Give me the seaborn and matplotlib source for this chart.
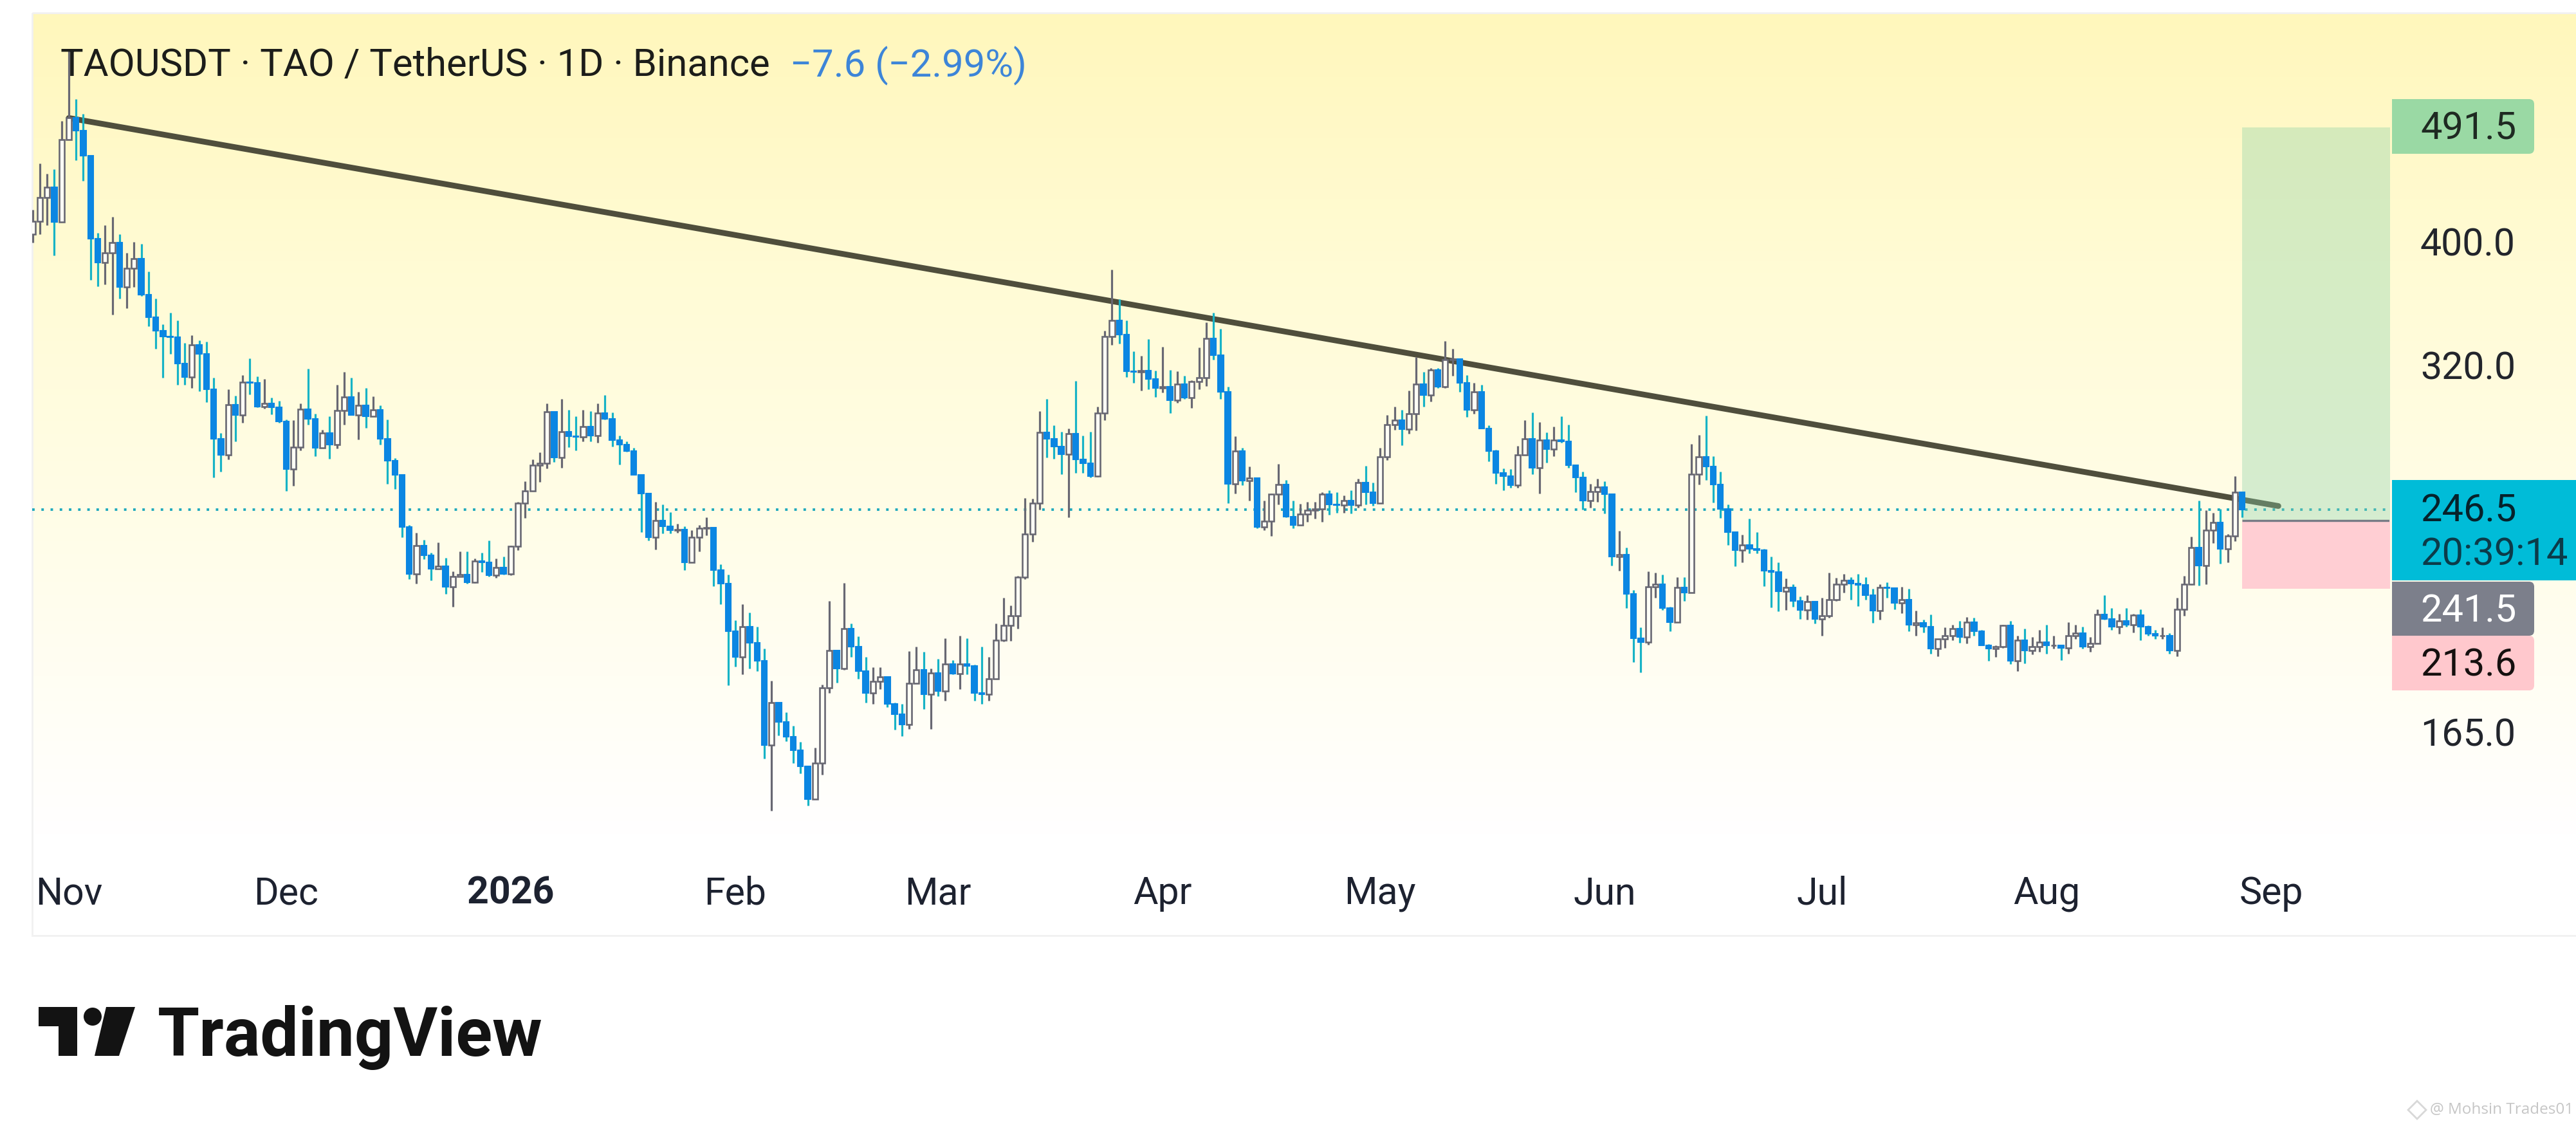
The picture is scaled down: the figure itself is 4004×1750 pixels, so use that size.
import numpy as np
import pandas as pd
import matplotlib
matplotlib.use("Agg")
import matplotlib.pyplot as plt
import seaborn as sns
from matplotlib.colors import LinearSegmentedColormap
from matplotlib.patches import FancyBboxPatch, Polygon, Circle, Rectangle
from matplotlib.transforms import Affine2D

# daily candles, first one is 5 days before 1 Nov
first_open = 405.3
closes = [
    414.9,432.9,441.1,414.4,480.9,500.0,488.9,466.8,401.9,385.0,
    391.8,399.0,368.3,380.9,387.7,363.2,348.8,340.4,337.0,336.6,
    320.7,313.0,331.7,326.4,306.2,280.1,272.1,297.7,292.3,310.1,
    309.8,296.7,298.4,296.3,288.9,265.0,275.9,295.3,290.3,275.6,
    283.0,277.2,294.7,301.9,292.3,297.4,291.6,295.0,280.1,269.2,
    262.3,238.9,219.3,230.8,226.8,221.3,222.4,214.3,218.3,219.1,
    216.0,224.4,224.1,218.8,221.8,219.3,230.6,249.4,254.8,267.0,
    268.0,294.0,270.8,283.5,281.3,281.0,286.2,281.7,293.3,290.3,
    279.4,277.2,274.0,262.3,253.6,234.3,241.7,239.2,237.3,237.8,
    224.1,234.3,238.1,238.6,221.0,215.5,197.9,188.9,199.5,193.6,
    187.4,161.0,173.8,167.8,163.4,159.5,154.9,146.0,155.8,178.5,
    191.1,185.0,198.8,192.3,184.0,176.9,180.6,182.1,173.4,170.2,
    167.2,180.0,184.4,176.5,183.3,177.5,186.5,183.1,186.5,185.7,
    176.9,176.5,181.4,194.5,199.8,203.3,218.1,235.7,249.4,283.2,
    280.1,276.2,272.4,282.8,269.9,268.0,261.7,293.3,336.7,346.8,
    338.2,316.2,315.9,316.6,311.9,306.9,307.6,300.1,309.1,301.6,
    310.5,312.7,335.9,325.6,304.8,258.1,274.0,259.6,260.8,238.9,
    241.4,253.3,257.8,243.4,239.7,244.3,246.0,246.6,253.3,248.8,
    248.5,250.5,248.3,258.7,254.2,249.4,271.2,287.2,289.6,284.9,
    293.0,309.1,303.0,317.3,307.6,323.0,323.4,309.8,295.0,304.8,
    285.2,274.0,263.2,261.7,257.5,272.1,280.1,265.6,279.4,275.0,
    279.4,278.8,267.0,261.1,250.5,254.5,256.6,253.3,226.3,227.1,
    211.7,195.2,193.9,214.3,215.3,206.2,201.0,214.0,212.2,262.6,
    271.2,266.4,257.8,246.6,236.5,229.0,231.1,229.5,229.0,220.6,
    220.1,212.7,214.0,209.0,205.5,208.6,202.1,203.3,209.3,215.3,
    216.8,215.5,215.0,211.0,205.2,214.0,213.8,208.1,209.3,200.0,
    200.7,199.3,191.6,195.0,196.3,198.6,195.7,201.0,197.7,192.7,
    191.6,192.3,199.8,187.4,194.5,191.1,192.3,193.9,192.7,192.9,
    192.0,196.1,197.2,192.3,193.4,203.8,202.1,199.5,201.4,200.2,
    203.6,199.5,196.8,196.1,196.3,191.1,205.7,215.3,230.0,222.6,
    237.5,240.6,229.5,234.9,254.2,246.5,
]
highs = [
    423.5,460.8,452.2,456.0,497.4,566.4,517.6,503.7,467.3,406.3,
    412.0,418.2,405.3,391.8,399.5,398.1,378.7,360.6,344.4,351.7,
    346.8,332.9,337.8,334.4,333.6,312.7,283.0,306.2,302.6,314.1,
    323.7,313.4,311.9,301.6,299.8,289.9,289.6,298.4,318.0,293.0,
    284.5,291.6,308.7,315.9,312.7,304.8,306.9,302.3,297.4,289.9,
    270.5,262.3,239.7,236.2,233.2,227.9,232.2,225.7,220.3,228.4,
    228.4,225.5,227.9,232.9,225.5,226.3,230.8,250.0,259.3,269.9,
    273.4,298.4,294.0,301.0,295.0,291.6,295.0,294.3,298.4,303.0,
    293.6,281.7,278.8,275.6,262.3,253.9,250.0,248.8,245.4,240.3,
    239.2,237.3,239.7,242.9,238.9,223.1,219.1,201.7,207.6,204.5,
    199.3,191.6,180.8,173.8,170.8,166.8,161.9,154.9,160.2,179.7,
    208.8,191.1,215.8,200.5,195.9,188.7,185.3,185.3,182.3,173.8,
    173.4,190.7,192.3,190.5,185.0,188.2,195.2,187.8,196.3,195.2,
    186.1,192.3,188.9,200.5,210.0,207.1,218.6,251.5,251.2,294.3,
    301.0,286.9,283.5,285.2,310.9,281.8,283.5,296.7,340.4,380.0,
    360.2,346.8,327.9,325.3,335.5,316.6,330.6,317.3,316.2,313.7,
    311.2,330.2,345.6,351.7,341.6,307.6,281.3,275.6,266.4,261.1,
    250.5,253.6,267.7,259.9,250.5,249.1,250.0,250.0,254.2,255.1,
    254.2,252.7,255.1,260.5,266.7,258.7,275.6,292.3,296.7,295.0,
    305.5,324.5,315.9,318.1,318.1,334.0,329.4,323.7,314.1,309.8,
    308.7,286.9,274.6,265.3,265.0,276.6,289.6,293.6,288.6,283.2,
    286.2,291.6,287.2,266.7,263.8,258.1,260.5,259.3,253.6,237.0,
    230.0,213.0,199.1,220.3,219.8,219.1,206.7,218.1,218.1,277.5,
    282.1,292.0,271.4,263.8,248.8,236.5,235.4,242.3,236.5,229.5,
    226.3,224.1,217.6,215.3,210.5,211.0,209.0,210.2,219.8,217.8,
    219.3,218.1,219.3,218.1,213.5,215.3,216.0,214.0,214.3,213.5,
    205.2,201.9,203.8,195.0,199.1,200.2,201.4,202.9,202.6,198.2,
    193.2,192.7,200.2,201.4,196.3,198.6,195.7,198.2,200.2,196.1,
    193.0,201.0,200.0,199.5,195.7,205.7,211.0,206.2,204.0,206.2,
    204.0,205.7,199.8,198.2,199.1,197.2,210.0,218.6,234.6,250.5,
    246.0,244.9,246.6,235.7,261.7,253.0,
]
lows = [
    399.0,405.3,412.0,390.0,415.4,480.9,463.5,446.2,373.0,368.7,
    370.0,350.4,360.6,354.7,368.3,362.3,343.2,329.4,312.7,326.4,
    308.7,308.7,306.9,305.1,299.1,261.1,263.9,269.9,278.8,288.2,
    303.3,296.3,295.7,292.6,288.2,254.8,257.2,274.3,287.2,271.4,
    275.6,270.2,275.3,287.2,292.3,279.7,285.5,291.6,277.2,258.1,
    255.7,234.3,217.3,215.5,225.2,216.8,221.3,211.7,206.7,218.6,
    215.5,215.8,220.1,218.3,217.8,219.1,218.8,229.0,242.6,254.8,
    259.0,265.3,268.6,265.9,275.9,274.3,278.8,278.8,278.1,289.9,
    276.2,267.3,273.7,262.3,236.5,233.0,229.3,235.9,235.9,236.2,
    220.8,224.1,228.4,235.1,214.5,207.6,179.3,185.5,182.9,185.0,
    184.0,157.2,143.0,163.8,162.1,155.8,153.0,144.4,146.3,152.6,
    176.9,180.2,184.4,188.9,181.4,173.8,173.4,178.1,172.4,165.5,
    163.6,165.7,180.2,171.8,165.7,175.8,174.4,182.9,178.1,182.9,
    174.4,173.4,174.4,181.4,194.1,194.3,198.6,217.3,232.4,246.3,
    270.8,270.2,262.6,242.9,263.2,263.2,261.1,261.4,289.6,331.7,
    332.5,313.0,309.8,305.5,306.2,301.9,304.4,293.3,298.7,300.8,
    296.0,306.2,308.0,323.0,300.8,249.4,253.6,257.5,250.5,238.1,
    237.3,234.9,248.8,242.9,238.1,239.7,240.9,242.3,241.1,244.0,
    245.1,245.1,244.6,247.4,248.8,248.0,249.4,269.5,284.5,276.9,
    282.5,284.2,296.7,299.4,306.9,306.9,313.7,304.8,291.3,293.0,
    285.2,268.9,258.1,255.1,256.3,256.3,272.1,262.6,253.6,268.3,
    271.4,278.1,265.9,254.2,246.3,247.4,250.0,244.6,222.8,220.6,
    206.2,187.1,183.6,193.0,210.0,205.5,197.9,201.0,209.0,212.2,
    257.8,259.9,249.7,242.6,231.1,222.4,224.1,227.6,227.6,214.5,
    206.4,205.0,205.5,206.7,202.1,201.9,200.5,196.3,202.6,209.0,
    212.2,209.3,206.9,209.3,200.7,201.9,210.2,205.7,204.3,197.9,
    196.3,197.4,189.8,189.1,191.8,194.5,193.6,193.4,196.1,192.7,
    187.4,188.7,192.0,186.5,184.0,186.7,189.6,190.5,189.8,191.6,
    187.8,189.8,195.0,191.6,190.5,193.4,201.9,198.2,196.8,199.5,
    197.4,194.5,196.3,195.0,195.0,190.0,189.1,203.3,215.0,214.8,
    215.3,231.9,223.6,224.1,232.7,243.1,
]

month_days = [0, 30, 61, 92, 120, 151, 181, 212, 242, 273, 304]
month_labels = ["Nov", "Dec", "2026", "Feb", "Mar", "Apr", "May", "Jun", "Jul", "Aug", "Sep"]
price_ticks = [400, 320, 165]

trend_days = [0, 305]
trend_prices = [500.0, 248.0]

last_price = 246.5
entry_price = 241.5
target_price = 491.5
stop_price = 213.6
position_days = [300, 321]

df = pd.DataFrame({"close": closes, "high": highs, "low": lows})
df["day"] = np.arange(len(df)) - 5
df["open"] = [first_open] + closes[:-1]
df["up"] = df["close"] >= df["open"]
up = df[df["up"]]
down = df[~df["up"]]

W, H = 4004, 1750
sns.set_theme(style="white")
plt.rcParams["font.family"] = ["Roboto", "DejaVu Sans"]

fig = plt.figure(figsize=(W / 100, H / 100), dpi=100, facecolor="white")
px = Affine2D().scale(1, -1).translate(0, H)  # image pixels, y down


def box(x0, y0, x1, y1):
    return [x0 / W, 1 - y1 / H, (x1 - x0) / W, (y1 - y0) / H]


# yellow fade behind the chart, runs under the price scale too
bg = fig.add_axes(box(50, 20, 4004, 1300), zorder=0)
fade = LinearSegmentedColormap.from_list(
    "fade", [(0, "#fff7bc"), (0.3, "#fffbd4"), (0.61, "#fffde7"), (1, "#ffffff")]
)
bg.imshow(np.linspace(0, 1, 512).reshape(-1, 1), aspect="auto", cmap=fade, vmin=0, vmax=1)
bg.axis("off")
fig.add_artist(Rectangle((50, 20), 4100, 1434, transform=px, fill=False, ec="#f1f1f1", lw=2))

ax = fig.add_axes(box(50, 20, 3714, 1300), zorder=1)
ax.patch.set_alpha(0)
ax.set_yscale("log")
ax.set_xlim(-5.06, 320.33)
ax.set_ylim(136.5, 604.6)
sns.despine(ax=ax, left=True, bottom=True, right=True, top=True)

ax.plot(ax.get_xlim(), [last_price, last_price], color="#1fa9bd", lw=2.8,
        ls=(0, (1, 2.67)), zorder=1)
sns.lineplot(x=trend_days, y=trend_prices, ax=ax, color="#4f4e3c", lw=6.4, sort=False,
             estimator=None, legend=False, zorder=2, solid_capstyle="round")

# long position box
ax.fill_between(position_days, entry_price, target_price, color="#8cd2a8", alpha=0.36, lw=0, zorder=3)
ax.fill_between(position_days, stop_price, entry_price, color="#ffcdd3", alpha=0.97, lw=0, zorder=3)
ax.plot(position_days, [entry_price, entry_price], color="#787b86", lw=2.4, zorder=3,
        solid_capstyle="butt")

# candles
ax.vlines(down["day"], down["low"], down["high"], color="#17b3c6", lw=2.3, zorder=4)
ax.vlines(up["day"], up["low"], up["high"], color="#686873", lw=2.3, zorder=4)
ax.bar(down["day"], (down["open"] - down["close"]), bottom=down["close"], width=0.74,
       color="#0b86e2", edgecolor="#0b86e2", lw=1.5, zorder=5)
ax.bar(up["day"], (up["close"] - up["open"]), bottom=up["open"], width=0.72,
       facecolor="#fffff6", edgecolor="#686873", lw=1.9, zorder=5)

# axes ticks
ax.yaxis.tick_right()
ax.set_yticks(price_ticks, [f"{v:.1f}" for v in price_ticks])
ax.minorticks_off()
ax.tick_params(axis="y", length=0, pad=34.5, labelsize=42.5, labelcolor="#22252c")
for t in ax.get_yticklabels():
    t.set_ha("left")
ax.set_xticks(month_days, month_labels)
ax.tick_params(axis="x", length=0, pad=43.5, labelsize=42.5, labelcolor="#1d2230")
ax.get_xticklabels()[2].set_fontweight("bold")
ax.set_xlabel("")
ax.set_ylabel("")

# header
fig.text(94, 102, "TAOUSDT · TAO / TetherUS · 1D · Binance", transform=px, fontsize=43,
         color="#1c1d1a", va="center", zorder=6)
fig.text(1228, 102, "−7.6 (−2.99%)", transform=px, fontsize=43, color="#3d85d8",
         va="center", zorder=6)

# price scale tags
tags = [
    (3718, 154, 3939, 239, "#9ad9a4", [("491.5", 200, "#1f2a22")]),
    (3718, 746, 4020, 902, "#00bcd8", [("246.5", 794, "#06222b"), ("20:39:14", 862, "#0c3b49")]),
    (3718, 904, 3939, 988, "#7c7f8b", [("241.5", 950, "#ffffff")]),
    (3718, 988, 3939, 1073, "#ffc8cd", [("213.6", 1034, "#15100f")]),
]
for x0, y0, x1, y1, col, rows in tags:
    fig.add_artist(FancyBboxPatch((x0 + 6, y0 + 6), x1 - x0 - 12, y1 - y0 - 12, transform=px,
                                  boxstyle="round,pad=6,rounding_size=8", fc=col, ec="none", zorder=5))
    fig.add_artist(Rectangle((x0, y0), 20, y1 - y0, transform=px, fc=col, ec="none", zorder=5))
    for text, y, tc in rows:
        fig.text(3762, y, text, transform=px, fontsize=42.8, color=tc, va="center", zorder=6)

# logo
logo = "#131313"
fig.add_artist(Polygon([(60, 1565), (120, 1565), (120, 1641), (91, 1641), (91, 1595), (60, 1595)],
                       transform=px, fc=logo, ec="none"))
fig.add_artist(Polygon([(165, 1565), (210, 1565), (185, 1641), (147, 1641)], transform=px, fc=logo, ec="none"))
fig.add_artist(Circle((144, 1580), 14, transform=px, fc=logo, ec="none"))
fig.text(245, 1641, "TradingView", transform=px, family="Roboto", fontsize=76, fontweight="bold",
         color=logo, va="baseline")

# watermark
fig.add_artist(Polygon([(3757, 1711), (3771, 1725), (3757, 1739), (3743, 1725)], transform=px,
                       fill=False, ec="#d8d8d8", lw=2))
fig.text(3777, 1725, "@ Mohsin Trades01", transform=px, family="Open Sans", fontsize=17.5,
         color="#c6c6c6", va="center")

fig.savefig("out.png", dpi=100, facecolor="white")
